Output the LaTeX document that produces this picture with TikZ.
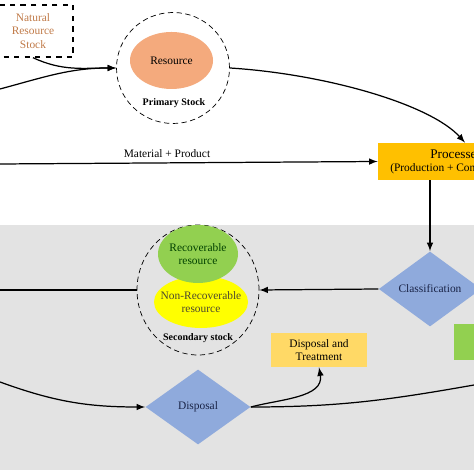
\documentclass[tikz,border=0pt]{standalone}
\usepackage{fontspec}
\setmainfont{Liberation Serif}
\usetikzlibrary{positioning, shapes.geometric, calc}

\definecolor{resorange}{RGB}{244,170,125}
\definecolor{procgold}{RGB}{255,192,0}
\definecolor{classblue}{RGB}{143,170,220}
\definecolor{recgreen}{RGB}{146,208,80}
\definecolor{nonrecyellow}{RGB}{255,255,0}
\definecolor{treatyellow}{RGB}{255,217,102}
\definecolor{stockbrown}{RGB}{192,122,72}
\definecolor{bggray}{RGB}{227,227,227}
\definecolor{navytext}{RGB}{25,35,70}

\begin{document}
\begin{tikzpicture}[
    font=\fontsize{6.5}{7.5}\selectfont,
    >=latex,
    stock/.style={draw, ellipse, densely dashed, thin, inner sep=0pt},
    blob/.style={ellipse, inner sep=-4pt, align=center},
    decision/.style={diamond, fill=classblue, text=navytext, inner sep=0pt,
                     minimum width=2.05cm, minimum height=1.5cm},
    box/.style={rectangle, inner sep=0pt, align=center},
    caption/.style={font=\fontsize{5.7}{6.5}\selectfont\bfseries},
    flow/.style={->, line width=0.7pt}
]

% Page and lower grey band
\useasboundingbox (0,0) rectangle (9.48,9.48);
\clip (0,0) rectangle (9.48,9.48);
\fill[bggray] (0,0.08) rectangle (9.48,4.98);

% Natural resource stock
\node[box, draw, dashed, thick, text=stockbrown, minimum width=1.6cm, minimum height=1.04cm] (natural) at (0.66,8.86) {Natural\\Resource\\Stock};

% Primary stock
\node[stock, minimum width=2.26cm, minimum height=2.22cm] (primary) at (3.46,8.12) {};
\node[blob, fill=resorange, minimum width=1.66cm, minimum height=1.14cm] (resource) at (3.43,8.27) {Resource};
\node[caption] (primlabel) at (3.48,7.42) {Primary Stock};

% Processes
\node[box, fill=procgold, minimum width=3.12cm, minimum height=0.74cm] (proc) at (9.12,6.25)
    {{\fontsize{7.5}{8.5}\selectfont Processes}\\(Production + Consumption)};

% Classification and secondary stock
\node[decision] (class) at (8.6,3.7) {Classification};
\node[stock, minimum width=2.44cm, minimum height=2.6cm] (secondary) at (3.96,3.68) {};
\node[blob, fill=nonrecyellow, text=black!60!olive, minimum width=1.72cm, minimum height=1.04cm] (nonrec) at (4.02,3.44) {Non-Recoverable\\resource};
\node[blob, fill=recgreen, text=green!25!black, minimum width=1.6cm, minimum height=1.16cm] (rec) at (3.96,4.4) {Recoverable\\resource};
\node[caption] (seclabel) at (3.96,2.72) {Secondary stock};

% Disposal
\node[decision, minimum width=2.1cm] (disposal) at (3.96,1.34) {Disposal};
\node[box, fill=treatyellow, minimum width=1.92cm, minimum height=0.68cm] (treat) at (6.38,2.48) {Disposal and\\Treatment};
\node[box, fill=recgreen, minimum width=1.5cm, minimum height=0.72cm] (greenbox) at (9.83,2.64) {};

% Free ends at the page border
\coordinate (leftin) at (0,7.7);
\coordinate (matin) at (0,6.2);
\coordinate (secout) at (0,3.68);
\coordinate (dispin) at (0,1.84);
\coordinate (dispout) at (9.48,1.78);

% Flows
\draw[flow] (natural.south) to[out=-25,in=180] (primary.west);
\draw[flow] (leftin) to[out=15,in=180] (primary.west);
\draw[flow] (primary.east) .. controls (6.5,8.0) and (8.6,7.4) .. ($(proc.north)+(0.18,0)$);
\draw[flow] (matin) -- (proc.west);
\node (matlabel) at (3.34,6.4) {Material + Product};
\draw[flow] (class.north |- proc.south) -- (class.north);
\draw[flow] (class.west) -- (secondary.east);
\draw[line width=0.7pt] (secondary.west) -- (secout);
\draw[flow] (dispin) to[out=-20,in=180] (disposal.west);
\draw[line width=0.7pt] (disposal.east) to[out=0,in=190] (dispout);
\draw[flow] (disposal.east) to[out=15,in=-80] (treat.south);

\end{tikzpicture}
\end{document}
